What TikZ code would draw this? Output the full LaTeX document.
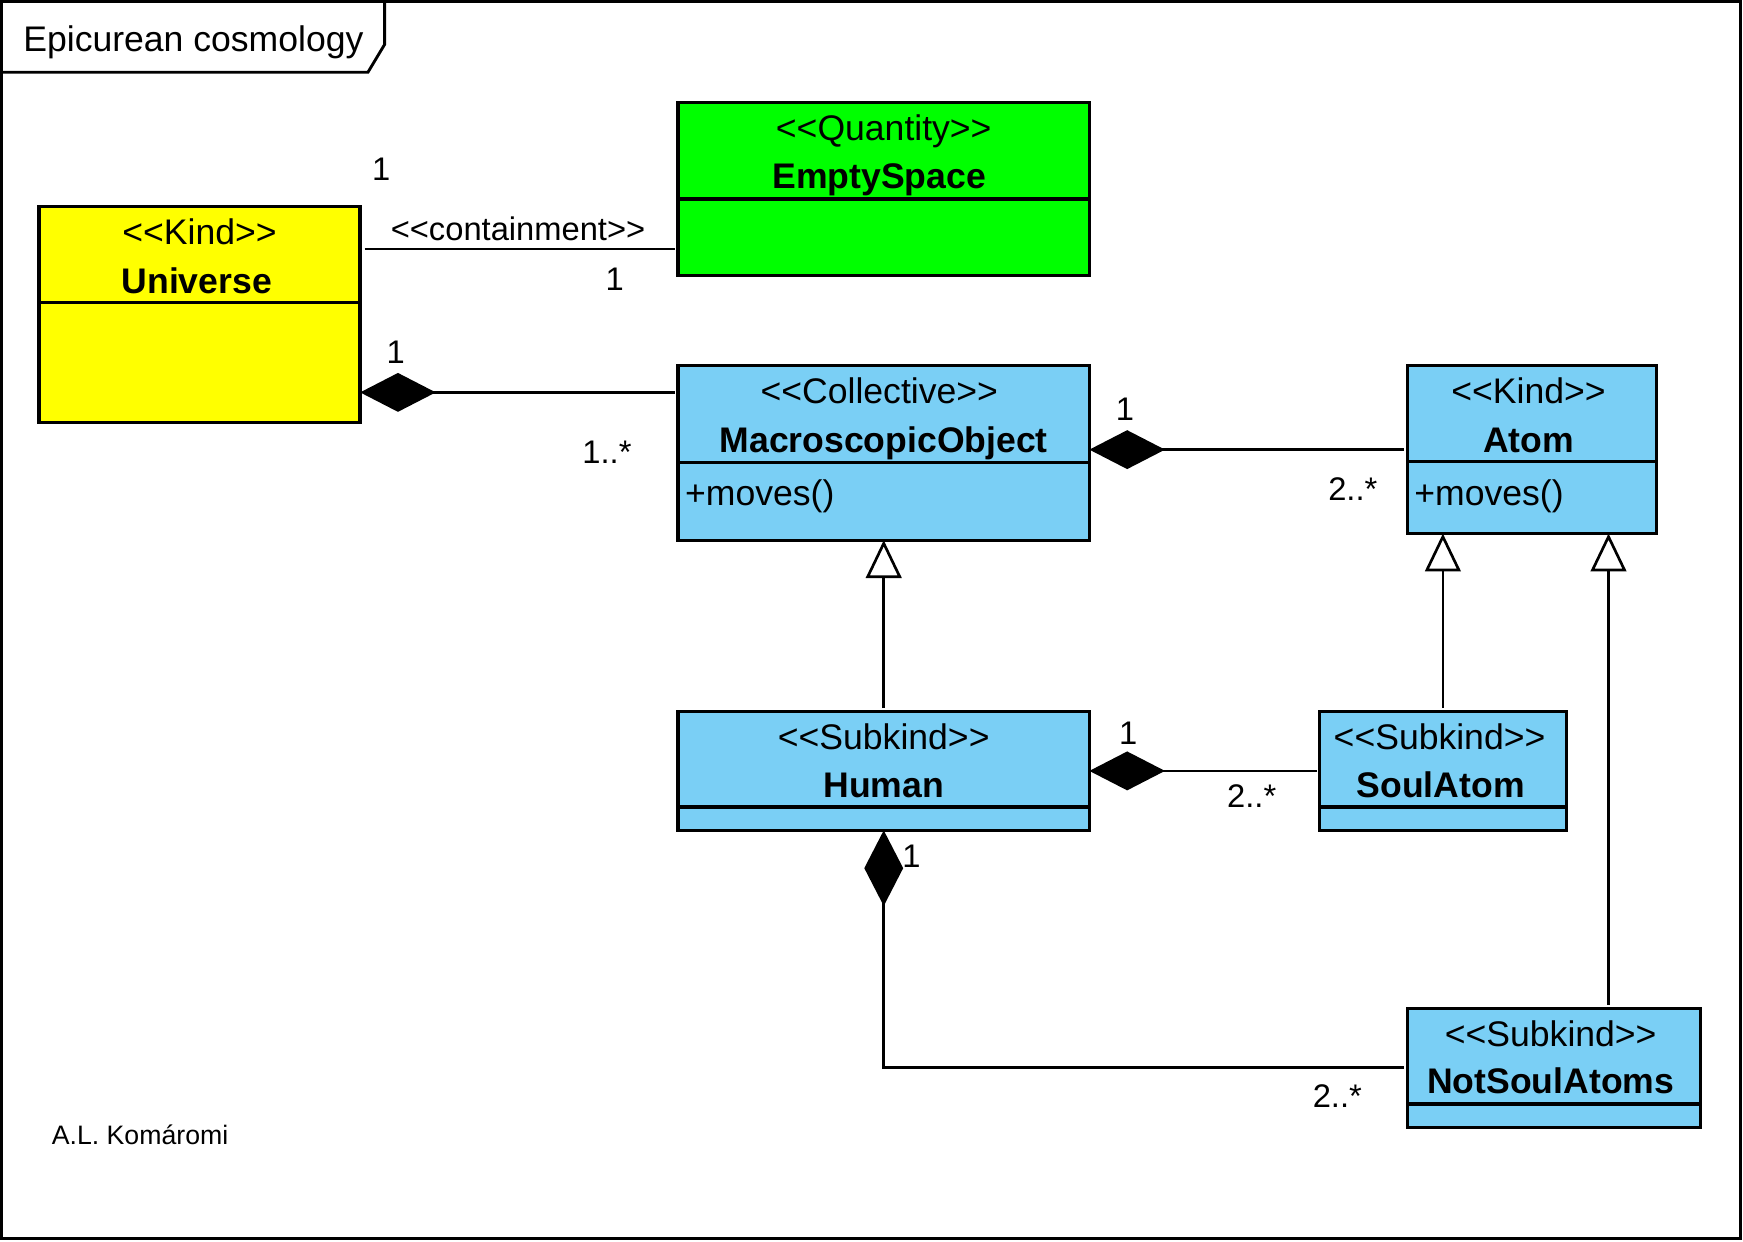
\documentclass[tikz,border=0pt]{standalone}
\usepackage{fontspec}
\newfontfamily\umlfont{Liberation Sans}
\usepackage{tikz}
\usetikzlibrary{arrows,arrows.meta}

\definecolor{kindyellow}{RGB}{255,255,0}
\definecolor{quantgreen}{RGB}{0,255,0}
\definecolor{clsblue}{RGB}{122,207,245}

\begin{document}
\begin{tikzpicture}[x=0.5pt,y=-0.5pt,
cls/.style={draw,line width=1.5pt,inner sep=0pt,outer sep=0pt},
stereo/.style={anchor=base,inner sep=0pt,font=\umlfont\fontsize{16}{19}\selectfont},
clsname/.style={anchor=base,inner sep=0pt,font=\umlfont\bfseries\fontsize{16}{19}\selectfont},
attr/.style={anchor=base west,inner sep=0pt,font=\umlfont\fontsize{16}{19}\selectfont},
mult/.style={anchor=base,inner sep=0pt,font=\umlfont\fontsize{14.7}{17}\selectfont},
divider/.style={line width=1.5pt},
assoc/.style={line width=1.1pt},
comp/.style={-{Diamond[length=34pt,width=17.5pt]},line width=1.2pt},
gen/.style={-{Triangle[open,length=17pt,width=16pt,fill=white]},line width=1.2pt} ]

\useasboundingbox (0,0) rectangle (1568,1117);

\draw[line width=1.3pt] (1,1) rectangle (1565.5,1114.5);

\draw[line width=1.3pt] (1,65) -- (331,65) -- (346,40) -- (346,1);

\node[stereo](title) at (174,46) {Epicurean cosmology};

% classes
\node[cls,fill=kindyellow,minimum width=144.5pt,minimum height=97pt](U) at (179.5,283) {};
\node[stereo](Ust) at (179.5,220) {<<Kind>>};
\node[clsname](Unm) at (177,264) {Universe};
\draw[divider] (U.west |- 0,272) -- (U.east |- 0,272);

\node[cls,fill=quantgreen,minimum width=185pt,minimum height=78pt](ES) at (795,170) {};
\node[stereo](ESst) at (795,126) {<<Quantity>>};
\node[clsname](ESnm) at (791,170) {EmptySpace};
\draw[divider] (ES.west |- 0,179) -- (ES.east |- 0,179);

\node[cls,fill=clsblue,minimum width=185pt,minimum height=78.5pt](MO) at (795,407.5) {};
\node[stereo](MOst) at (791,363) {<<Collective>>};
\node[clsname](MOnm) at (795,407) {MacroscopicObject};
\node[attr](MOop) at (616,455) {+moves()};
\draw[divider] (MO.west |- 0,416) -- (MO.east |- 0,416);

\node[cls,fill=clsblue,minimum width=112pt,minimum height=75.5pt](AT) at (1378,404.5) {};
\node[stereo](ATst) at (1375,363) {<<Kind>>};
\node[clsname](ATnm) at (1375,407) {Atom};
\node[attr](ATop) at (1272,455) {+moves()};
\draw[divider] (AT.west |- 0,415) -- (AT.east |- 0,415);

\node[cls,fill=clsblue,minimum width=185pt,minimum height=53.5pt](HU) at (795,693.5) {};
\node[stereo](HUst) at (795,674) {<<Subkind>>};
\node[clsname](HUnm) at (795,717) {Human};
\draw[divider] (HU.west |- 0,726) -- (HU.east |- 0,726);

\node[cls,fill=clsblue,minimum width=111pt,minimum height=53.5pt](SA) at (1298,693.5) {};
\node[stereo](SAst) at (1295,674) {<<Subkind>>};
\node[clsname](SAnm) at (1296,717) {SoulAtom};
\draw[divider] (SA.west |- 0,726) -- (SA.east |- 0,726);

\node[cls,fill=clsblue,minimum width=132pt,minimum height=53.5pt](NSA) at (1398,960.5) {};
\node[stereo](NSAst) at (1395,941) {<<Subkind>>};
\node[clsname](NSAnm) at (1395,984) {NotSoulAtoms};
\draw[divider] (NSA.west |- 0,993) -- (NSA.east |- 0,993);

% relations
\draw[assoc] ([xshift=2pt]U.east |- 0,224) -- ([xshift=-1.5pt]ES.west |- 0,224);

\draw[comp] ([xshift=-1.5pt]MO.west |- 0,353) -- (U.east |- 0,353);

\draw[comp] ([xshift=-1.5pt]AT.west) -- (MO.east |- AT.west);

\draw[comp] ([xshift=-1pt]SA.west) -- (HU.east);

\draw[comp] ([xshift=-1.5pt]NSA.west) -| (HU.south);

\draw[gen] ([yshift=1.5pt]HU.north) -- (MO.south);

\draw[gen] ([yshift=1.5pt]SA.north) -- (AT.south -| SA.north);

\draw[gen] ([xshift=-21.5pt,yshift=1.5pt]AT.south east |- NSA.north) -- ([xshift=-21.5pt]AT.south east);

% multiplicities
\node[mult](m1) at (343,162) {1};
\node[mult](cont) at (466,216) {<<containment>>};
\node[mult](m2) at (553,261) {1};
\node[mult](m3) at (356,327) {1};
\node[mult](m4) at (546,417) {1..*};
\node[mult](m5) at (1012,378) {1};
\node[mult](m6) at (1217,450) {2..*};
\node[mult](m7) at (1015,670) {1};
\node[mult](m8) at (1126,726) {2..*};
\node[mult](m9) at (820,780) {1};
\node[mult](m10) at (1203,996) {2..*};

\node[anchor=base,inner sep=0pt,font=\umlfont\fontsize{12}{14}\selectfont](author) at (126,1030) {A.L. Komáromi};
\end{tikzpicture}
\end{document}
